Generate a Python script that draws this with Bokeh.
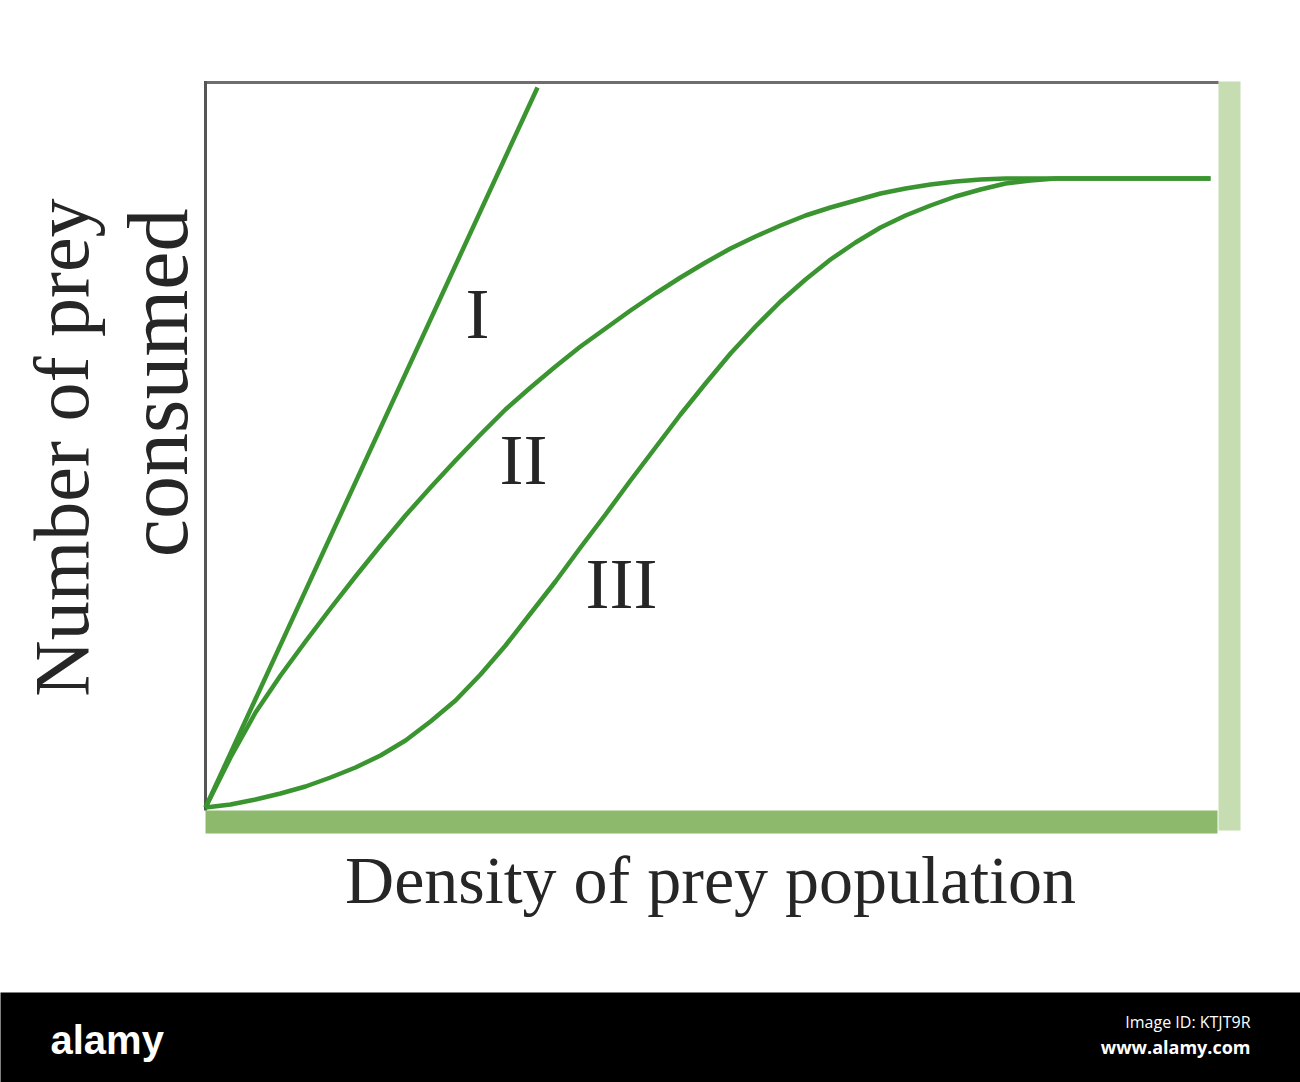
import math
from bokeh.plotting import figure
from bokeh.models import Range1d
from bokeh.core.properties import value
from bokeh.embed import file_html
from bokeh.resources import INLINE

# ---- data ----
density = [0.0, 0.25, 0.5, 0.75, 1.0, 1.25, 1.5, 1.75, 2.0, 2.25, 2.5, 2.75,
           3.0, 3.25, 3.5, 3.75, 4.0, 4.25, 4.5, 4.75, 5.0, 5.25, 5.5, 5.75,
           6.0, 6.25, 6.5, 6.75, 7.0, 7.25, 7.5, 7.75, 8.0, 8.25, 8.5, 9.0,
           9.5, 10.0, 10.05]
type_ii = [0.0, 0.50, 0.95, 1.32, 1.66, 1.99, 2.31, 2.62, 2.92, 3.20, 3.47, 3.73,
           3.98, 4.20, 4.41, 4.61, 4.79, 4.97, 5.14, 5.30, 5.45, 5.59, 5.71, 5.82,
           5.92, 6.00, 6.07, 6.14, 6.19, 6.23, 6.26, 6.28, 6.29, 6.29, 6.29, 6.29,
           6.29, 6.29, 6.29]
type_iii = [0.0, 0.03, 0.08, 0.14, 0.21, 0.30, 0.40, 0.52, 0.67, 0.86, 1.07, 1.33,
            1.62, 1.94, 2.26, 2.60, 2.93, 3.27, 3.60, 3.93, 4.24, 4.54, 4.81, 5.06,
            5.28, 5.48, 5.65, 5.80, 5.92, 6.02, 6.11, 6.18, 6.24, 6.27, 6.29, 6.29,
            6.29, 6.29, 6.29]
type_i_x = [0.0, 3.32]
type_i_y = [0.0, 7.20]

curve_names = ["I", "II", "III"]
curve_label_x = [2.72, 3.18, 4.16]
curve_label_y = [4.94, 3.48, 2.24]

x_title = "Density of prey population"
y_title = ["Number of prey", "consumed"]

# axes extents (data units)
X_AXIS_END = 10.12
Y_AXIS_TOP = 7.25

SERIF = "Liberation Serif"
GREEN = "#3a942f"
TEXT = "#262626"

p = figure(width=1300, height=1082,
           x_range=Range1d(-2.05, 10.95), y_range=Range1d(-2.75, 8.07),
           output_backend="svg", toolbar_location=None,
           x_axis_location=None, y_axis_location=None, min_border=0)
p.xgrid.grid_line_color = None
p.ygrid.grid_line_color = None
p.outline_line_color = None
p.background_fill_color = "white"
p.border_fill_color = "white"

# frame of the graph: right light bar, bottom bar, top and left rules
p.quad(left=[0], right=[X_AXIS_END], bottom=[-0.26], top=[-0.03],
       fill_color="#8cb96b", line_color=None)
p.quad(left=[X_AXIS_END + 0.01], right=[X_AXIS_END + 0.23], bottom=[-0.23],
       top=[Y_AXIS_TOP + 0.01], fill_color="#c6dcb1", line_color=None)
p.segment(x0=[0], y0=[Y_AXIS_TOP], x1=[X_AXIS_END + 0.01], y1=[Y_AXIS_TOP],
          line_color="#6e6e6e", line_width=3)
p.segment(x0=[0], y0=[-0.03], x1=[0], y1=[Y_AXIS_TOP + 0.015],
          line_color="#555555", line_width=3)

# response curves
p.line(type_i_x, type_i_y, line_color=GREEN, line_width=4.5, line_join="round")
p.line(density, type_ii, line_color=GREEN, line_width=4.5, line_join="round")
p.line(density, type_iii, line_color=GREEN, line_width=4.5, line_join="round")

p.text(x=curve_label_x, y=curve_label_y, text=curve_names, text_font=value(SERIF),
       text_font_size="72px", text_color=TEXT, text_align="center",
       text_baseline="alphabetic")

p.text(x=[5.05], y=[-0.72], text=[x_title], text_font=value(SERIF),
       text_font_size="68px", text_color=TEXT, text_align="center",
       text_baseline="alphabetic")
p.text(x=[-1.44], y=[6.09], text=[y_title[0]], text_font=value(SERIF),
       text_font_size="78px", text_color=TEXT, text_align="right",
       text_baseline="alphabetic", angle=math.pi / 2)
p.text(x=[-0.48], y=[5.99], text=[y_title[1]], text_font=value(SERIF),
       text_font_size="86px", text_color=TEXT, text_align="right",
       text_baseline="alphabetic", angle=math.pi / 2)

# ---- watermark band ----
p.quad(left=[-2.2], right=[11.0], bottom=[-2.9], top=[-1.85],
       fill_color="black", line_color=None)
p.text(x=[-1.55], y=[-2.32], text=["alamy"], text_font=value("Liberation Sans"),
       text_font_style="bold", text_font_size="40px", text_color="white",
       text_align="left", text_baseline="alphabetic")
p.text(x=[10.45], y=[-2.14], text=["Image ID: KTJT9R"], text_font=value("Open Sans"),
       text_font_size="16px", text_color="white", text_align="right",
       text_baseline="alphabetic")
p.text(x=[10.45], y=[-2.39], text=["www.alamy.com"], text_font=value("Open Sans"),
       text_font_style="bold", text_font_size="18px", text_color="white",
       text_align="right", text_baseline="alphabetic")

open("out.html", "w").write(file_html(p, INLINE))
